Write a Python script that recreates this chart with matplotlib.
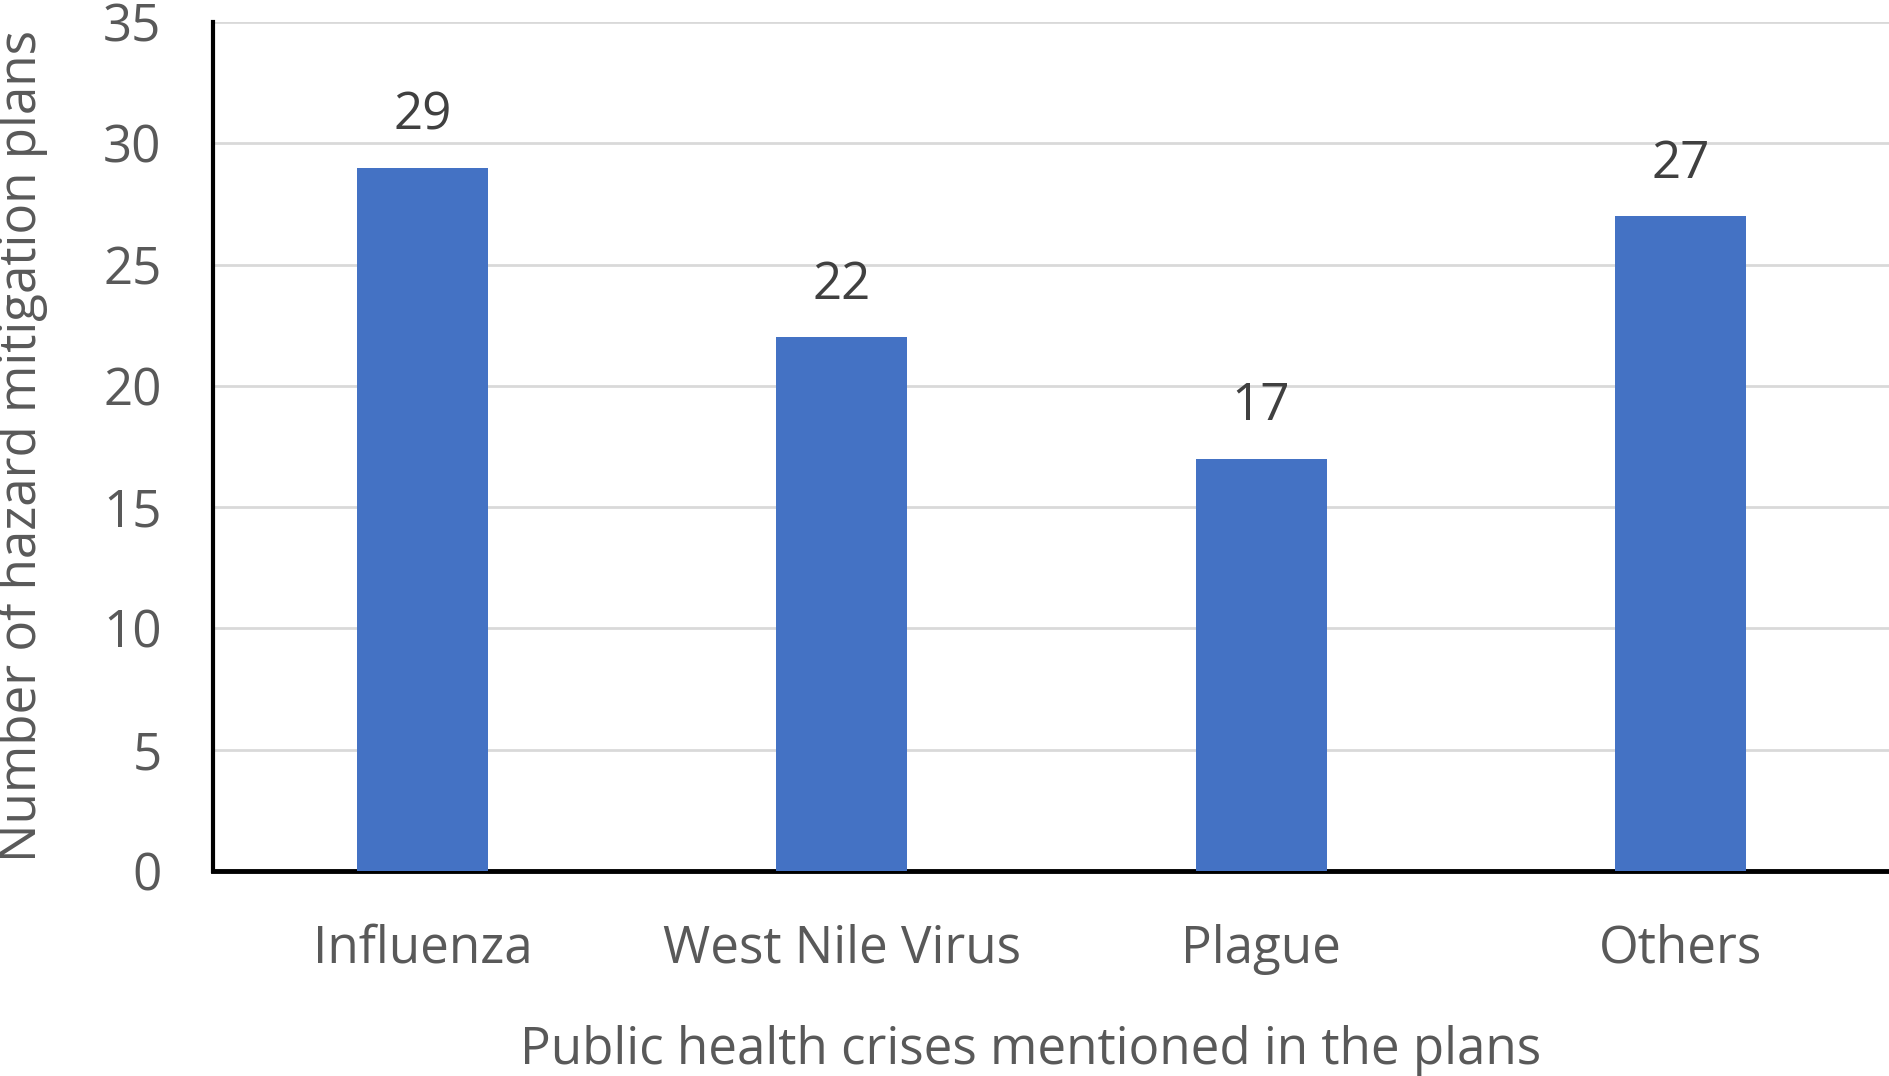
import matplotlib
matplotlib.use("Agg")
import matplotlib.pyplot as plt

categories = ["Influenza", "West Nile Virus", "Plague", "Others"]
values = [29, 22, 17, 27]
yticks = [0, 5, 10, 15, 20, 25, 30, 35]

plt.rcParams['font.family'] = ['Open Sans', 'DejaVu Sans']
FS = 36.8

fig = plt.figure(figsize=(18.9, 10.76), dpi=100)
ax = fig.add_axes([213/1890, 1 - 871/1076, (1890-213)/1890, (871-22)/1076])

x = list(range(len(categories)))
ax.bar(x, values, width=0.313, color="#4472C4", zorder=3)
for xi, v in zip(x, values):
    ax.annotate(str(v), (xi, v), xytext=(0, 58), textcoords="offset pixels",
                ha="center", va="center_baseline", fontsize=FS, color="#404040")

ax.set_xlim(-0.5, 3.5)
ax.set_ylim(0, 35)
ax.set_yticks(yticks)
ax.set_yticklabels([str(t) for t in yticks])
ax.set_xticks(x)
ax.set_xticklabels(categories)
ax.tick_params(axis="both", length=0, labelsize=FS, labelcolor="#595959")
ax.tick_params(axis="y", pad=37)
ax.tick_params(axis="x", pad=38)
ax.yaxis.grid(True, color="#D9D9D9", linewidth=2, zorder=0)
ax.set_axisbelow(True)
for s in ["top", "right"]:
    ax.spines[s].set_visible(False)
ax.spines["left"].set_linewidth(3)
ax.spines["bottom"].set_linewidth(3.5)
ax.spines["left"].set_color("black")
ax.spines["bottom"].set_color("black")
ax.set_xlabel("Public health crises mentioned in the plans", fontsize=FS, color="#595959", va="center")
ax.set_ylabel("Number of hazard mitigation plans", fontsize=FS, color="#595959", va="center")
ax.xaxis.set_label_coords((1031-213)/(1890-213), -(1050-871)/(871-22))
ax.yaxis.set_label_coords(-(213-22)/(1890-213), 0.5)

fig.savefig("out.png", dpi=100)
